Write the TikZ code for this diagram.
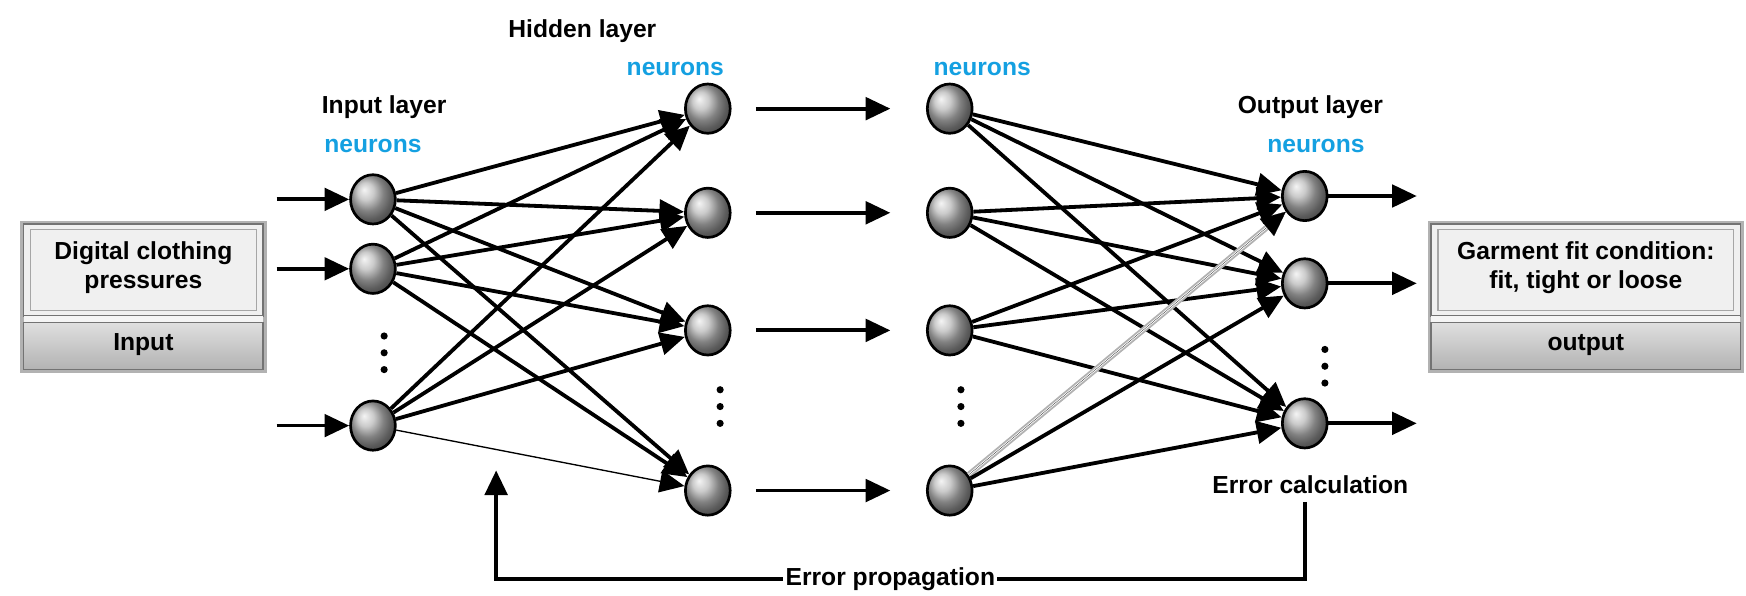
\documentclass[tikz,border=0pt]{standalone}
\usepackage{fontspec}
\setmainfont{Liberation Sans}
\usetikzlibrary{arrows.meta,shapes.geometric}
\definecolor{nblue}{RGB}{20,160,225}
\begin{document}
\begin{tikzpicture}[x=0.5pt,y=-0.5pt,
  neu/.style={ellipse,draw=black,line width=1.2pt,ball color=gray!55,inner sep=0pt,minimum width=20pt,minimum height=22pt},
  con/.style={line width=1.7pt,-{Triangle[length=11pt,width=10pt]}},
  lab/.style={font=\bfseries\fontsize{11}{13}\selectfont,align=center},
  blab/.style={lab,text=nblue}]
\useasboundingbox (0,0) rectangle (1559,532);
% boxes
\foreach \nm/\xa/\xb in {L/18/238,R/1275/1557}{
  \fill[gray!60] (\xa,197) rectangle (\xb,333);
  \draw[gray!90!black,line width=0.8pt,fill=gray!12] (\xa+3,200) rectangle (\xb-3,282);
  \draw[gray!70,line width=0.6pt] (\xa+9,205) rectangle (\xb-9,277);
  \fill[gray!8] (\xa+3,282) rectangle (\xb-3,288);
  \shade[top color=gray!25,bottom color=gray!60,draw=gray!90!black,line width=0.8pt] (\xa+3,288) rectangle (\xb-3,330);
}
\node[lab] (tl) at (128,239) {Digital clothing\\pressures};
\node[lab] (bl) at (128,308) {Input};
\node[lab] (tr) at (1416,239) {Garment fit condition:\\fit, tight or loose};
\node[lab] (br) at (1416,308) {output};
% neurons
\foreach \i/\y in {1/178,2/240,3/380} \node[neu] (i\i) at (333,\y) {};
\foreach \i/\y in {1/97,2/190,3/295,4/438} \node[neu] (a\i) at (632,\y) {};
\foreach \i/\y in {1/97,2/190,3/295,4/438} \node[neu] (b\i) at (848,\y) {};
\foreach \i/\y in {1/175,2/253,3/378} \node[neu] (o\i) at (1165,\y) {};
% dots
\foreach \x/\ya in {343/300,643/348,858/348,1183/312}
  \foreach \k in {0,1,2} \fill (\x,\ya+\k*15) circle (1.6pt);
% input arrows
\foreach \i in {1,2,3} {\coordinate (s\i) at ([xshift=-43pt]i\i.center); \draw[con] (s\i) -- (i\i);}
% hidden arrows
\foreach \i in {1,2,3,4} {\coordinate (h\i) at ([xshift=21.5pt]a\i.center); \coordinate (g\i) at ([xshift=-26.5pt]b\i.center); \draw[con] (h\i) -- (g\i);}
% output arrows
\foreach \i in {1,2,3} {\coordinate (t\i) at ([xshift=50pt]o\i.center); \draw[con] (o\i.east) -- (t\i);}
% connections
\foreach \i in {1,2,3} \foreach \j in {1,2,3,4} {
  \ifnum\i\j=34 \draw[line width=0.6pt,-{Triangle[length=11pt,width=10pt]}] (i\i) -- (a\j);
  \else \draw[con] (i\i) -- (a\j); \fi}
\foreach \i in {1,2,3,4} \foreach \j in {1,2,3} {
  \ifnum\i\j=41 \draw[line width=2.6pt,gray!60,shorten >=4pt] (b\i) -- (o\j); \draw[line width=0.9pt,white,shorten >=4pt] (b\i) -- (o\j); \draw[con,line width=0.1pt] (b\i) -- (o\j);
  \else \draw[con] (b\i) -- (o\j); \fi}
% labels
\node[lab] (hl) at (520,28) {Hidden layer};
\node[blab] (hn1) at (603,62) {neurons};
\node[blab] (hn2) at (877,62) {neurons};
\node[lab] (il) at (343,96) {Input layer};
\node[blab] (in) at (333,130) {neurons};
\node[lab] (ol) at (1170,96) {Output layer};
\node[blab] (on) at (1175,130) {neurons};
\node[lab] (ec) at (1170,433) {Error calculation};
% feedback
\coordinate (f1) at (1165,448);
\coordinate (f2) at (1165,517);
\coordinate (f3) at (443,517);
\coordinate (f4) at (443,420);
\draw[line width=1.8pt,-{Triangle[length=11pt,width=10pt]}] (f1) -- (f2) -- (f3) -- (f4);
\node[lab,fill=white,inner sep=1pt] (ep) at (795,517) {Error propagation};
\end{tikzpicture}
\end{document}
